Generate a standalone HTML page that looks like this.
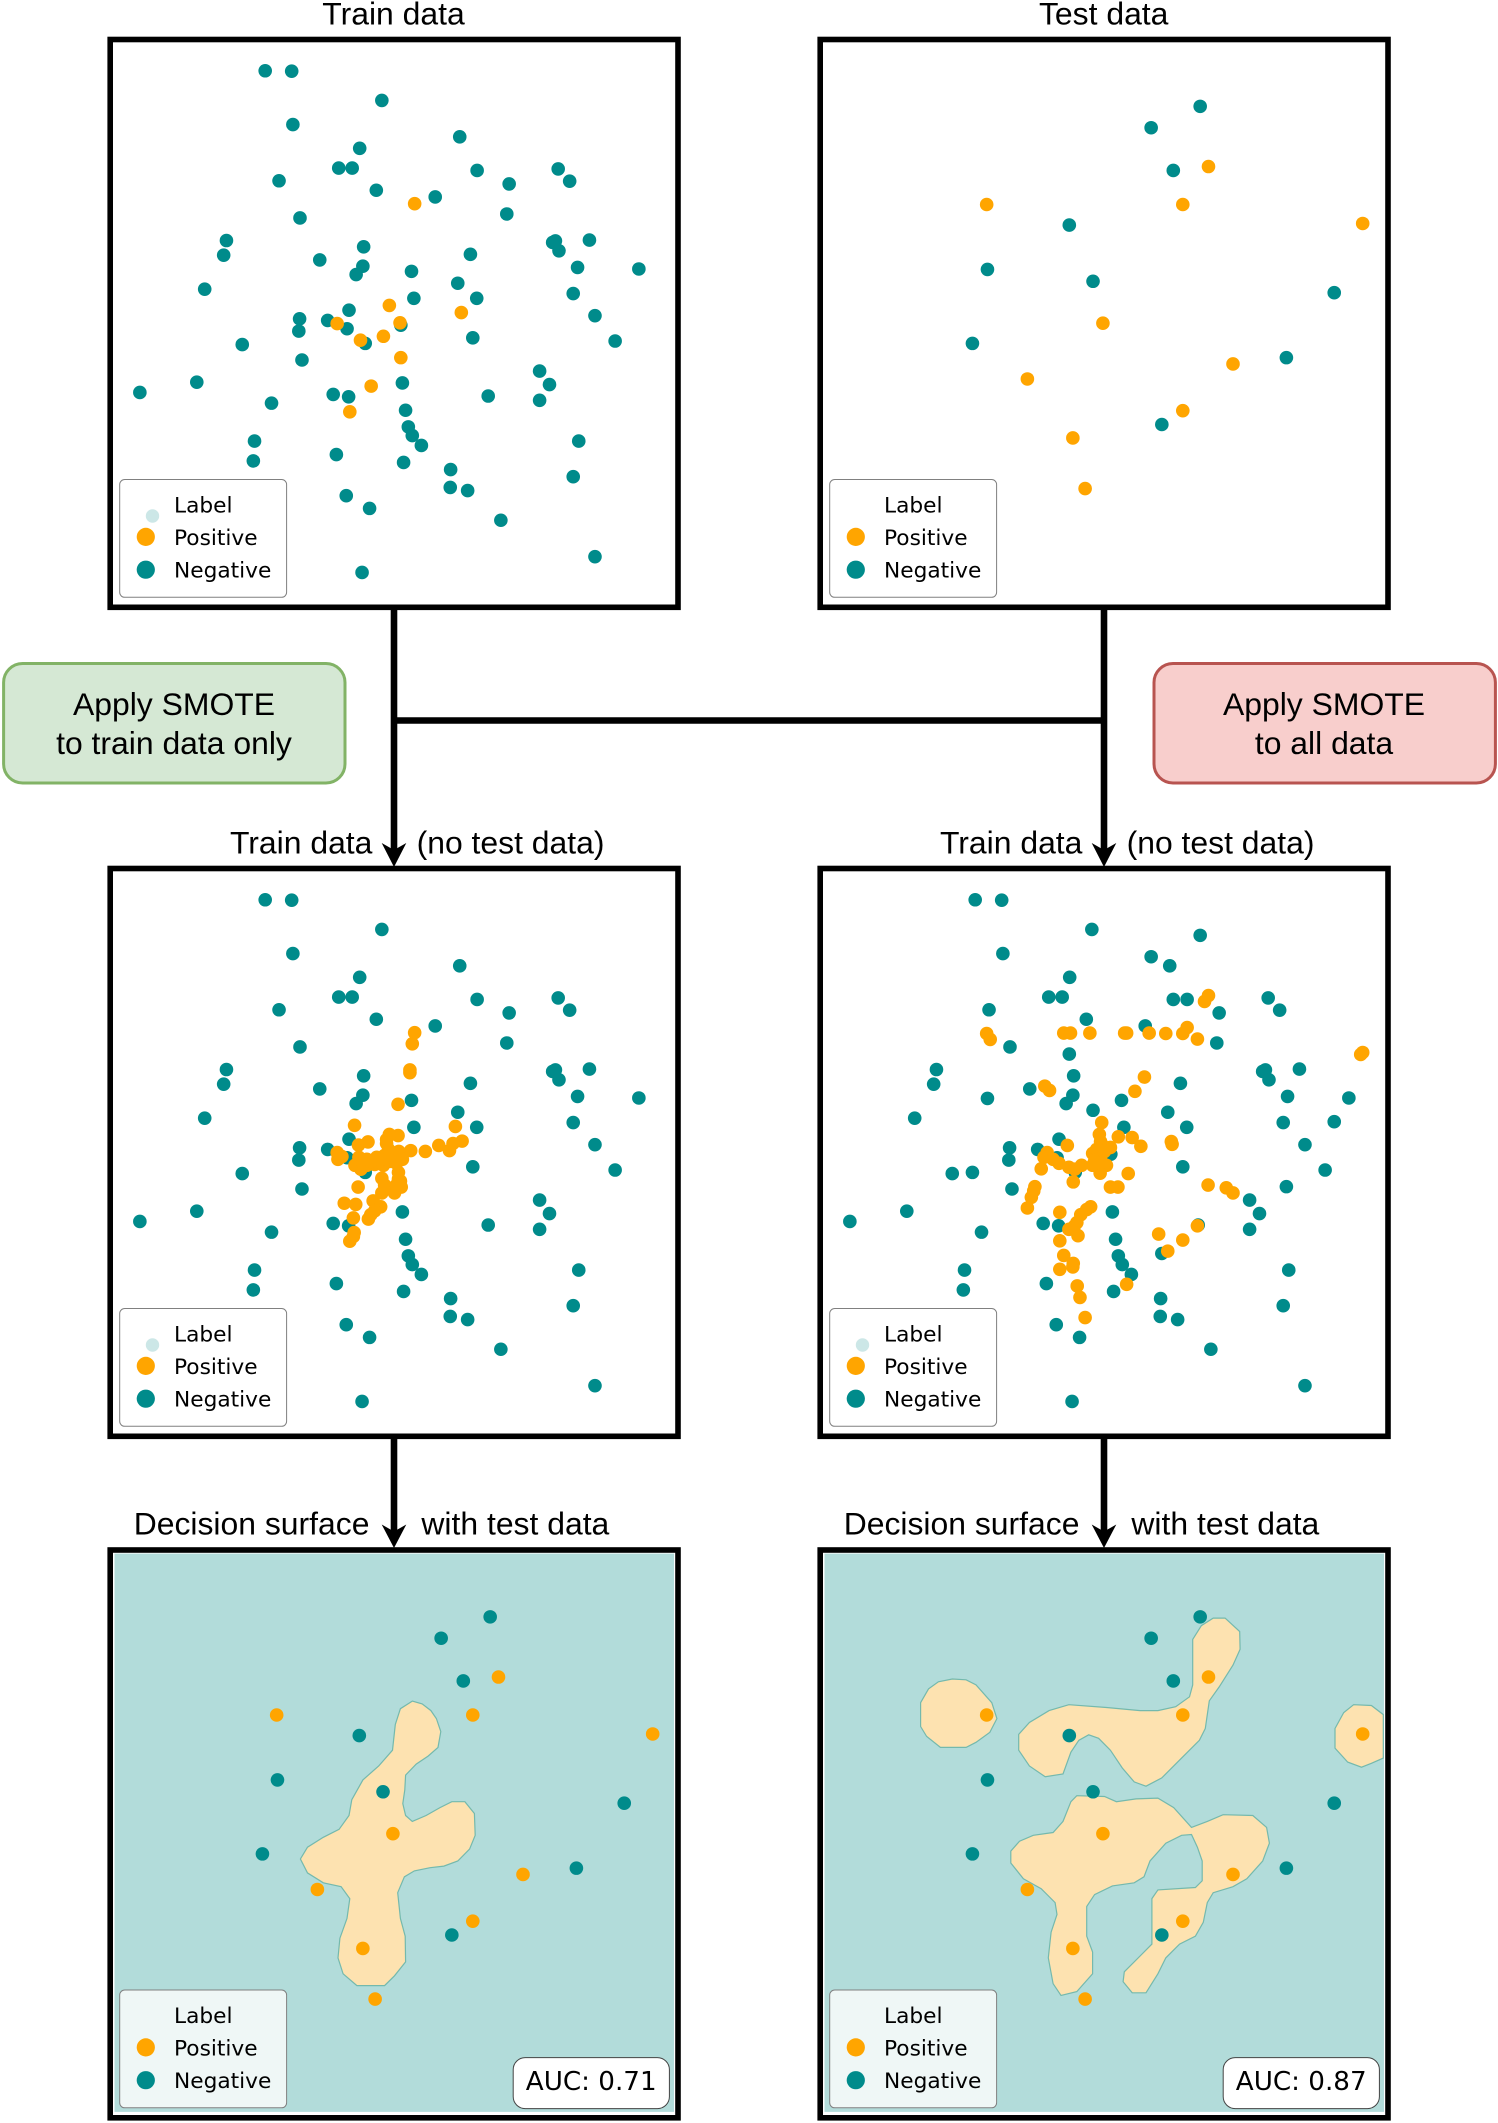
<!DOCTYPE html>
<html lang="en">
<head>
<meta charset="utf-8">
<title>SMOTE data leakage diagram</title>
<style>
html,body{margin:0;padding:0;background:#fff;}
svg{display:block;}
.flow-text{font-family:"Liberation Sans",Arial,sans-serif;font-size:31.9px;fill:#000;}
.mpl-text{font-family:"DejaVu Sans",sans-serif;fill:#000;}
</style>
</head>
<body>
<svg id="figure" xmlns="http://www.w3.org/2000/svg" width="1498" height="2123" viewBox="0 0 1498 2123">
  <rect x="0" y="0" width="1498" height="2123" fill="#ffffff"/>

  <g stroke="#000" stroke-width="6.6" fill="none">
    <line x1="394" y1="607" x2="394" y2="852"/>
    <line x1="1104" y1="607" x2="1104" y2="852"/>
    <line x1="394" y1="720.5" x2="1104" y2="720.5"/>
    <line x1="394" y1="1436" x2="394" y2="1534"/>
    <line x1="1104" y1="1436" x2="1104" y2="1534"/>
  </g>
  <g fill="#000">
    <polygon points="394,867 381.7,843 394,850 406.3,843"/>
    <polygon points="1104,867 1091.7,843 1104,850 1116.3,843"/>
    <polygon points="394,1548 381.7,1524.5 394,1531.5 406.3,1524.5"/>
    <polygon points="1104,1548 1091.7,1524.5 1104,1531.5 1116.3,1524.5"/>
  </g>

  <g>
    <rect x="3.6" y="663.5" width="341.4" height="119.5" rx="19" fill="#d5e8d4" stroke="#82b366" stroke-width="3"/>
    <text class="flow-text" x="174" y="715" text-anchor="middle">Apply SMOTE</text>
    <text class="flow-text" x="174" y="754" text-anchor="middle">to train data only</text>
  </g>
  <g>
    <rect x="1154" y="663.5" width="341.4" height="119.5" rx="19" fill="#f8cecc" stroke="#b85450" stroke-width="3"/>
    <text class="flow-text" x="1324" y="715" text-anchor="middle">Apply SMOTE</text>
    <text class="flow-text" x="1324" y="754" text-anchor="middle">to all data</text>
  </g>

  <g>
    <text class="flow-text" x="393.5" y="24.5" text-anchor="middle">Train data</text>
    <text class="flow-text" x="1103.7" y="24.5" text-anchor="middle">Test data</text>
    <text class="flow-text" x="230" y="853.5">Train data</text>
    <text class="flow-text" x="416.6" y="853.5">(no test data)</text>
    <text class="flow-text" x="940" y="853.5">Train data</text>
    <text class="flow-text" x="1126.6" y="853.5">(no test data)</text>
    <text class="flow-text" x="133.7" y="1534.6">Decision surface</text>
    <text class="flow-text" x="421.4" y="1534.6">with test data</text>
    <text class="flow-text" x="843.7" y="1534.6">Decision surface</text>
    <text class="flow-text" x="1131.4" y="1534.6">with test data</text>
  </g>
</svg>

<script>
// Feature values, [feature 1, feature 2], unitless.
var trainNegative = [[443,179],[510,180],[738,254],[513,315],[935,346],[682,375],[629,425],[663,425],[979,431],[1060,465],[1184,427],[1213,458],[478,457],[724,481],[873,498],[1054,541],[531,551],[345,608],[338,645],[581,657],[692,624],[690,673],[673,694],[813,686],[962,643],[1177,609],[1170,613],[1186,634],[1263,607],[1233,676],[1388,680],[930,716],[290,731],[1222,742],[819,754],[978,754],[655,784],[1277,798],[530,806],[601,810],[650,831],[786,822],[528,837],[968,854],[1328,862],[385,871],[696,868],[536,910],[270,966],[126,992],[790,968],[1137,938],[1162,972],[1007,1001],[1137,1012],[615,997],[654,1003],[459,1019],[798,1037],[805,1079],[815,1101],[838,1126],[416,1115],[413,1165],[623,1149],[793,1169],[1236,1115],[912,1187],[1222,1205],[911,1232],[955,1240],[648,1253],[707,1285],[1039,1315],[1277,1407],[688,1447]];
var trainPositive = [[821,515],[757,772],[784,816],[625,818],[939,790],[742,850],[684,860],[786,904],[711,976],[657,1041]];
var testNegative = [[1012,269],[888,323],[944,431],[681,569],[474,681],[741,711],[1351,740],[436,868],[1230,904],[915,1073]];
var testPositive = [[1033,421],[472,517],[968,517],[1423,565],[766,817],[1095,920],[575,958],[968,1038],[690,1107],[721,1235]];
var smoteTrainPositive = [[821,515],[815,543],[809,609],[809,616],[779,696],[669,749],[924,752],[941,789],[918,795],[909,813],[882,800],[848,815],[811,813],[779,775],[757,772],[750,785],[703,791],[679,799],[625,818],[637,828],[627,835],[680,830],[700,835],[725,830],[745,825],[762,830],[781,815],[790,835],[670,850],[685,860],[700,850],[720,848],[742,850],[760,840],[780,868],[785,890],[787,905],[770,920],[738,883],[745,900],[738,920],[678,905],[643,946],[672,949],[716,940],[735,955],[720,965],[710,975],[704,986],[666,983],[668,1020],[666,1030],[657,1042],[775,845],[690,845],[710,840],[735,835],[755,810],[750,795],[780,885],[775,900]];
var smoteAllPositive = [[1033,421],[1023,436],[472,517],[481,532],[667,516],[684,516],[733,516],[821,516],[826,516],[883,516],[925,517],[968,517],[979,502],[1005,531],[1423,565],[1418,570],[871,627],[847,663],[619,650],[631,661],[763,742],[757,772],[805,778],[840,780],[862,802],[939,790],[941,797],[676,800],[625,818],[617,830],[610,859],[640,835],[655,845],[680,855],[695,860],[712,850],[740,820],[750,810],[765,800],[785,805],[760,830],[745,840],[775,850],[759,870],[830,871],[691,892],[785,905],[804,905],[1032,900],[1078,907],[1095,920],[594,904],[591,915],[585,931],[575,958],[735,955],[725,962],[710,975],[700,995],[693,1005],[680,1012],[703,1028],[657,969],[657,1041],[667,1078],[691,1098],[690,1107],[657,1113],[701,1155],[708,1184],[721,1235],[826,1151],[907,1024],[968,1039],[1005,1003],[930,1067],[760,790],[770,815],[755,850],[740,850]];

// Decision-boundary contours, in the same feature units.
var surfaceTrainOnly = [
  [[815,482],[840,489],[862,506],[876,526],[887,559],[880,599],[855,621],[825,641],[798,669],[796,706],[791,741],[798,771],[815,786],[850,771],[885,751],[915,736],[948,736],[972,766],[974,821],[960,856],[930,886],[895,899],[860,903],[820,911],[795,926],[778,966],[785,1031],[797,1076],[798,1141],[770,1176],[745,1201],[675,1201],[640,1171],[627,1131],[632,1081],[650,1031],[657,981],[635,951],[590,941],[550,916],[532,881],[550,851],[590,826],[630,806],[655,771],[662,731],[690,681],[730,646],[765,606],[772,541],[785,501]]
];
var surfaceAllData = [
  [[385,426],[420,428],[445,441],[485,486],[498,526],[480,561],[445,586],[420,599],[355,599],[320,571],[305,546],[305,486],[325,451],[350,433]],
  [[1045,272],[1075,272],[1112,306],[1113,351],[1095,391],[1060,446],[1035,481],[1025,551],[1010,581],[955,636],[915,676],[875,697],[845,686],[815,651],[785,606],[755,576],[730,567],[705,581],[685,611],[665,666],[620,673],[580,646],[553,606],[553,566],[580,536],[630,506],[680,491],[775,498],[860,506],[905,506],[950,496],[985,471],[993,441],[993,326],[1015,291]],
  [[1400,491],[1445,493],[1475,516],[1475,626],[1445,639],[1420,649],[1385,636],[1353,601],[1353,551],[1375,511]],
  [[700,721],[770,723],[800,736],[850,729],[905,727],[945,751],[990,801],[1030,786],[1070,769],[1145,771],[1180,801],[1187,841],[1170,886],[1130,931],[1095,951],[1045,966],[1030,991],[1020,1041],[1000,1076],[960,1096],[925,1131],[905,1171],[875,1219],[840,1219],[817,1191],[820,1166],[860,1126],[890,1096],[890,981],[905,959],[1000,953],[1017,936],[1017,886],[1005,851],[990,819],[965,821],[925,841],[885,886],[870,926],[845,941],[790,949],[745,971],[725,1001],[725,1076],[740,1116],[740,1171],[700,1216],[660,1226],[640,1196],[628,1131],[635,1066],[650,1021],[645,991],[610,956],[565,931],[533,891],[533,861],[555,836],[590,821],[640,814],[665,786],[685,736]]
];

var legendTitle = "Label";
var legendLabels = ["Positive", "Negative"];
var aucLeft = "AUC: 0.71";
var aucRight = "AUC: 0.87";

var NS = "http://www.w3.org/2000/svg";
var ORANGE = "#ffa500";
var TEAL = "#008b8b";
var PANEL_SIZE = 567.8;
var X_DOMAIN = [51, 1487];
var Y_DOMAIN = [100, 1535];
var figure = document.getElementById("figure");

function xAxis(panel, v) {
  return panel.x + (v - X_DOMAIN[0]) / (X_DOMAIN[1] - X_DOMAIN[0]) * PANEL_SIZE;
}
function yAxis(panel, v) {
  return panel.y + (v - Y_DOMAIN[0]) / (Y_DOMAIN[1] - Y_DOMAIN[0]) * PANEL_SIZE;
}
function make(parent, tag, attrs) {
  var el = document.createElementNS(NS, tag);
  for (var k in attrs) { el.setAttribute(k, attrs[k]); }
  parent.appendChild(el);
  return el;
}

function drawPoints(group, panel, points, color, label) {
  points.forEach(function (p) {
    var dot = make(group, "circle", {
      cx: xAxis(panel, p[0]).toFixed(2),
      cy: yAxis(panel, p[1]).toFixed(2),
      r: 6.8,
      fill: color
    });
    
    
  });
}

function drawSurface(group, panel, regions) {
  var bg = make(group, "rect", {
    x: panel.x + 4.3, y: panel.y + 3.6, width: 559.5, height: 558.3, fill: "#b2dcda"
  });
  
  
  regions.forEach(function (poly) {
    var pts = poly.map(function (p) {
      return xAxis(panel, p[0]).toFixed(1) + "," + yAxis(panel, p[1]).toFixed(1);
    }).join(" ");
    var shape = make(group, "polygon", {
      points: pts, fill: "#fde2b0", stroke: "#74b9ad", "stroke-width": 1.2
    });
    
    
  });
}

function drawLegend(group, panel, opts) {
  var g = make(group, "g", {});
  
  
  var box = make(g, "rect", {
    x: panel.x + 9.5, y: panel.y + 440, width: 166.9, height: 117.8, rx: 5,
    fill: opts.translucent ? "#eff7f6" : "#ffffff", stroke: "#808080", "stroke-width": 1
  });
  
  
  if (opts.pale) {
    var pale = make(g, "circle", {cx: panel.x + 42.3, cy: panel.y + 476.5, r: 6.7, fill: "#cce7e7"});
    
    
  }
  var title = make(g, "text", {x: panel.x + 63.8, y: panel.y + 472.9, "class": "mpl-text", "font-size": 21.7});
  title.textContent = legendTitle;
  
  

  var posMarker = make(g, "circle", {cx: panel.x + 35.6, cy: panel.y + 497.4, r: 9.1, fill: ORANGE});
  
  
  var posText = make(g, "text", {x: panel.x + 63.8, y: panel.y + 505.4, "class": "mpl-text", "font-size": 21.7});
  posText.textContent = legendLabels[0];
  
  

  var negMarker = make(g, "circle", {cx: panel.x + 35.6, cy: panel.y + 530.2, r: 9.1, fill: TEAL});
  
  
  var negText = make(g, "text", {x: panel.x + 63.8, y: panel.y + 538, "class": "mpl-text", "font-size": 21.7});
  negText.textContent = legendLabels[1];
  
  
}

function drawAuc(group, panel, label) {
  var box = make(group, "rect", {
    x: panel.x + 403, y: panel.y + 507.6, width: 156.2, height: 51, rx: 12,
    fill: "#ffffff", stroke: "#444444", "stroke-width": 1
  });
  
  
  var txt = make(group, "text", {
    x: panel.x + 481, y: panel.y + 540, "class": "mpl-text", "font-size": 26.2, "text-anchor": "middle"
  });
  txt.textContent = label;
  
  
}

function drawFrame(group, panel) {
  var frame = make(group, "rect", {
    x: panel.x, y: panel.y, width: PANEL_SIZE, height: PANEL_SIZE,
    fill: "none", stroke: "#000000", "stroke-width": 5.6
  });
  
  
}

function drawPanel(name, panel, negative, positive, opts) {
  var g = make(figure, "g", {});
  
  
  var bg = make(g, "rect", {x: panel.x, y: panel.y, width: PANEL_SIZE, height: PANEL_SIZE, fill: "#ffffff"});
  
  
  if (opts.surface) { drawSurface(g, panel, opts.surface); }
  drawPoints(g, panel, negative, TEAL, 'negative');
  drawPoints(g, panel, positive, ORANGE, 'positive');
  drawLegend(g, panel, {pale: opts.pale, translucent: !!opts.surface});
  if (opts.auc) { drawAuc(g, panel, opts.auc); }
  drawFrame(g, panel);
}

var LEFT = 110.2, RIGHT = 820.2, ROW1 = 39.5, ROW2 = 868.5, ROW3 = 1550;
drawPanel('train-data-panel', {x: LEFT, y: ROW1}, trainNegative, trainPositive, {pale: true});
drawPanel('test-data-panel', {x: RIGHT, y: ROW1}, testNegative, testPositive, {pale: false});
drawPanel('smote-train-only-panel', {x: LEFT, y: ROW2}, trainNegative, smoteTrainPositive, {pale: true});
drawPanel('smote-all-data-panel', {x: RIGHT, y: ROW2}, trainNegative.concat(testNegative), smoteAllPositive, {pale: true});
drawPanel('surface-train-only-panel', {x: LEFT, y: ROW3}, testNegative, testPositive, {surface: surfaceTrainOnly, auc: aucLeft});
drawPanel('surface-all-data-panel', {x: RIGHT, y: ROW3}, testNegative, testPositive, {surface: surfaceAllData, auc: aucRight});
</script>
</body>
</html>
